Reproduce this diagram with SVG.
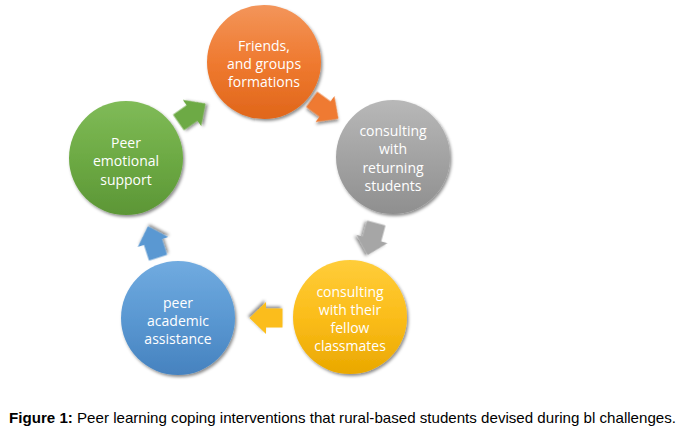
<svg xmlns="http://www.w3.org/2000/svg" width="680" height="430" viewBox="0 0 680 430">
<defs>
<filter id="sh" x="-20%" y="-20%" width="150%" height="150%">
<feDropShadow dx="1.5" dy="2" stdDeviation="1.5" flood-color="#000" flood-opacity="0.45"/>
</filter>
<linearGradient id="gO" x1="0" y1="0" x2="0" y2="1"><stop offset="0" stop-color="#f3955a"/><stop offset="0.5" stop-color="#ef7a30"/><stop offset="1" stop-color="#e0661a"/></linearGradient>
<linearGradient id="gG" x1="0" y1="0" x2="0" y2="1"><stop offset="0" stop-color="#b8b8b8"/><stop offset="0.5" stop-color="#a3a3a3"/><stop offset="1" stop-color="#8f8f8f"/></linearGradient>
<linearGradient id="gY" x1="0" y1="0" x2="0" y2="1"><stop offset="0" stop-color="#ffcd3a"/><stop offset="0.5" stop-color="#fbbd1a"/><stop offset="1" stop-color="#eaa800"/></linearGradient>
<linearGradient id="gB" x1="0" y1="0" x2="0" y2="1"><stop offset="0" stop-color="#71abe0"/><stop offset="0.5" stop-color="#5a98d2"/><stop offset="1" stop-color="#4682bf"/></linearGradient>
<linearGradient id="gGr" x1="0" y1="0" x2="0" y2="1"><stop offset="0" stop-color="#80bb58"/><stop offset="0.5" stop-color="#6daa44"/><stop offset="1" stop-color="#5c9636"/></linearGradient>
<path id="arr" d="M -16.5,-9.5 L 0,-9.5 L 0,-16 L 16.5,0 L 0,16 L 0,9.5 L -16.5,9.5 Z"/>
</defs>
<style>
.c{filter:url(#sh);}
.t{font-family:"Open Sans","Liberation Sans",sans-serif;font-size:14px;fill:#fff;text-anchor:middle;}
.cap{font-family:"Liberation Sans",Arial,sans-serif;font-size:15px;fill:#000;}
</style>
<g id="connectors">
<use href="#arr" fill="#ef7a30" filter="url(#sh)" transform="translate(325,109) rotate(36)"/>
<use href="#arr" fill="#a6a6a6" filter="url(#sh)" transform="translate(372,239) rotate(105)"/>
<use href="#arr" fill="#fbbd1a" filter="url(#sh)" transform="translate(266,318) rotate(180)"/>
<use href="#arr" fill="#5a98d2" filter="url(#sh)" transform="translate(153,242) rotate(-108)"/>
<use href="#arr" fill="#6daa44" filter="url(#sh)" transform="translate(192,113) rotate(-35)"/>
</g>
<g id="friends">
<circle class="c" cx="264" cy="62" r="57" fill="url(#gO)"/>
<text class="t" x="264" y="51">Friends,</text>
<text class="t" x="264" y="69">and groups</text>
<text class="t" x="264" y="87">formations</text>
</g>
<g id="returning">
<circle class="c" cx="393" cy="157" r="57" fill="url(#gG)"/>
<text class="t" x="393" y="136">consulting</text>
<text class="t" x="393" y="154">with</text>
<text class="t" x="393" y="173">returning</text>
<text class="t" x="393" y="191">students</text>
</g>
<g id="classmates">
<circle class="c" cx="350" cy="317" r="57" fill="url(#gY)"/>
<text class="t" x="350" y="297">consulting</text>
<text class="t" x="350" y="315">with their</text>
<text class="t" x="350" y="333">fellow</text>
<text class="t" x="350" y="351">classmates</text>
</g>
<g id="academic">
<circle class="c" cx="178" cy="318" r="57" fill="url(#gB)"/>
<text class="t" x="178" y="308">peer</text>
<text class="t" x="178" y="326">academic</text>
<text class="t" x="178" y="344">assistance</text>
</g>
<g id="emotional">
<circle class="c" cx="126" cy="158" r="57" fill="url(#gGr)"/>
<text class="t" x="126" y="148">Peer</text>
<text class="t" x="126" y="166">emotional</text>
<text class="t" x="126" y="185">support</text>
</g>
<text class="cap" x="9" y="423" textLength="667" lengthAdjust="spacingAndGlyphs"><tspan font-weight="bold">Figure 1:</tspan> Peer learning coping interventions that rural-based students devised during bl challenges.</text>
</svg>
